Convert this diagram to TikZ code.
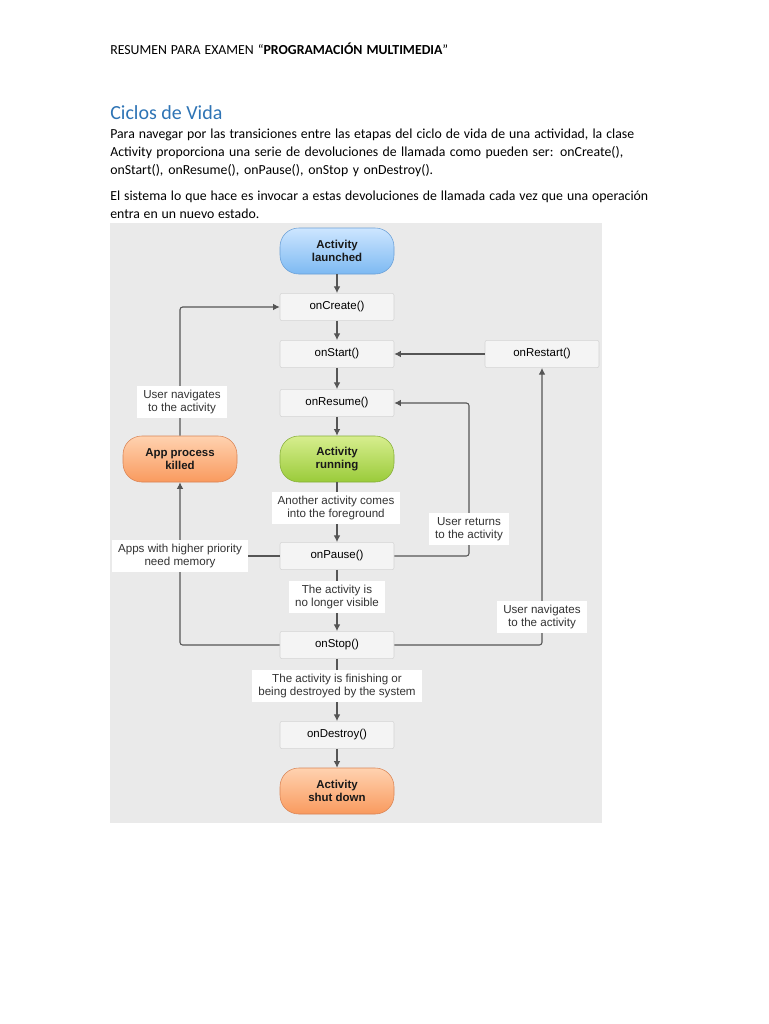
\documentclass[tikz,border=0pt]{standalone}
\usepackage{fontspec}
\setmainfont{Carlito}
\newfontfamily\diafont{Liberation Sans}
\usetikzlibrary{arrows.meta}
\definecolor{headblue}{HTML}{2E74B5}
\definecolor{diabg}{HTML}{EAEAEA}
\definecolor{boxfill}{HTML}{F4F4F4}
\definecolor{boxline}{HTML}{D4D4D4}
\definecolor{lineclr}{HTML}{555555}
\definecolor{txtclr}{HTML}{333333}
\definecolor{bluetop}{HTML}{CDE6FF}
\definecolor{bluebot}{HTML}{7DB9F2}
\definecolor{blueline}{HTML}{6A9FD6}
\definecolor{greentop}{HTML}{D7EE8E}
\definecolor{greenbot}{HTML}{9ACB3A}
\definecolor{greenline}{HTML}{86AE3A}
\definecolor{orgtop}{HTML}{FFD2B0}
\definecolor{orgbot}{HTML}{F99A5E}
\definecolor{orgline}{HTML}{D98455}
\begin{document}
\begin{tikzpicture}[x=0.75pt,y=-0.75pt,
  bodytext/.style={anchor=base west,inner sep=0pt,font=\fontsize{10.35}{12}\selectfont},
  stepbox/.style={draw=boxline,fill=boxfill,rounded corners=1.5pt,minimum width=85.5pt,minimum height=20.5pt,inner sep=0pt,text=black,font=\diafont\fontsize{8.6}{10}\selectfont},
  pill/.style={rounded corners=14pt,minimum width=85.5pt,minimum height=34.5pt,inner sep=0pt,align=center,font=\diafont\bfseries\fontsize{8.6}{10}\selectfont,text=black!90},
  bluepill/.style={pill,draw=blueline,top color=bluetop,bottom color=bluebot},
  greenpill/.style={pill,draw=greenline,top color=greentop,bottom color=greenbot},
  orgpill/.style={pill,draw=orgline,top color=orgtop,bottom color=orgbot},
  lbl/.style={fill=white,inner xsep=4.5pt,inner ysep=3pt,align=center,text=txtclr,font=\diafont\fontsize{8.7}{9.8}\selectfont},
  conn/.style={draw=lineclr,line width=0.8pt},
  arr/.style={conn,-{Latex[length=5pt,width=5pt]}}]
\useasboundingbox (0,0) rectangle (768,1024);
\fill[white] (0,0) rectangle (768,1024);
% page text
\node[bodytext] (hdr) at (110,55) {\hbox to 253.5pt{RESUMEN PARA EXAMEN “\textbf{PROGRAMACIÓN MULTIMEDIA}”}};
\node[bodytext,text=headblue,font=\fontsize{15}{18}\selectfont] (ttl) at (110,119) {Ciclos de Vida};
\node[bodytext] (p1) at (110,138) {\hbox to 393pt{Para navegar por las transiciones entre las etapas del ciclo de vida de una actividad, la clase}};
\node[bodytext] (p2) at (110,156) {\hbox to 384.75pt{Activity proporciona una serie de devoluciones de llamada como pueden ser: onCreate(),}};
\node[bodytext] (p3) at (110,174) {\hbox to 242.25pt{onStart(), onResume(), onPause(), onStop y onDestroy().}};
\node[bodytext] (p4) at (110,200) {\hbox to 403.5pt{El sistema lo que hace es invocar a estas devoluciones de llamada cada vez que una operación}};
\node[bodytext] (p5) at (110,218) {\hbox to 111.75pt{entra en un nuevo estado.}};
% diagram background
\fill[diabg] (110,223) rectangle (602,823);
% nodes
\node[bluepill] (launched) at (337,251) {Activity\\launched};
\node[stepbox] (create) at (337,307) {onCreate()};
\node[stepbox] (start) at (337,354) {onStart()};
\node[stepbox] (restart) at (542,354) {onRestart()};
\node[stepbox] (resume) at (337,403) {onResume()};
\node[greenpill] (running) at (337,459) {Activity\\running};
\node[orgpill] (killed) at (180,459) {App process\\killed};
\node[stepbox] (pause) at (337,556) {onPause()};
\node[stepbox] (stop) at (337,645) {onStop()};
\node[stepbox] (destroy) at (337,735) {onDestroy()};
\node[orgpill] (shut) at (337,791) {Activity\\shut down};
% coordinates for bends
\coordinate (lx1) at (180,307);
\coordinate (rx1) at (469,403);
\coordinate (rx2) at (469,556);
\coordinate (kx) at (180,556);
% connectors
\draw[arr] (launched) -- (create);
\draw[arr] (create) -- (start);
\draw[arr] (start) -- (resume);
\draw[arr] (resume) -- (running);
\draw[arr] (running) -- (pause);
\draw[arr] (pause) -- (stop);
\draw[arr] (stop) -- (destroy);
\draw[arr] (destroy) -- (shut);
\draw[arr] (restart) -- (start);
\draw[arr,rounded corners=2pt] (pause.east) -- (rx2) -- (rx1) -- (resume.east);
\draw[arr,rounded corners=2pt] (stop.east) -| (restart.south);
\draw[conn] (pause.west) -- (kx);
\draw[arr,rounded corners=2pt] (stop.west) -| (killed.south);
\draw[arr,rounded corners=2pt] (killed.north) -- (lx1) -- (create.west);
% labels
\node[lbl] (l1) at (182,402) {User navigates\\to the activity};
\node[lbl] (l2) at (336,508) {Another activity comes\\into the foreground};
\node[lbl] (l3) at (469,529) {User returns\\to the activity};
\node[lbl] (l4) at (180,556) {Apps with higher priority\\need memory};
\node[lbl] (l5) at (337,597) {The activity is\\no longer visible};
\node[lbl] (l6) at (542,617) {User navigates\\to the activity};
\node[lbl] (l7) at (337,686) {The activity is finishing or\\being destroyed by the system};
\end{tikzpicture}
\end{document}
